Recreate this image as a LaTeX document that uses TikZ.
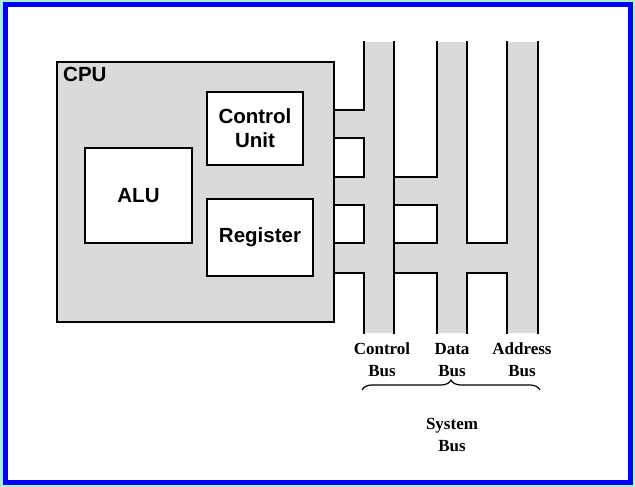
\documentclass[tikz,border=0pt]{standalone}
\usepackage{fontspec}
\setmainfont{Liberation Sans}
\newfontfamily\busfont{Liberation Serif}
\usetikzlibrary{decorations.pathreplacing}
\definecolor{busgray}{RGB}{218,218,218}
\definecolor{framegreen}{RGB}{170,240,200}
\tikzset{
  wire/.style={line width=2.6pt, line cap=rect},
  unit/.style={draw, line width=2.6pt, fill=white, align=center,
    font=\fontsize{20.5}{24}\selectfont\bfseries},
  buslabel/.style={font=\busfont\fontsize{17}{22}\selectfont\bfseries, align=center, inner sep=0pt}
}

\begin{document}
\begin{tikzpicture}[x=1pt, y=-1pt]
  \useasboundingbox (0,0) rectangle (635,487);
  \fill[framegreen] (0,0) rectangle (635,487);
  \fill[white] (5,5) rectangle (630,482);
  \draw[blue, line width=5pt] (5,5) rectangle (630,482);

  % gray fills
  \fill[busgray] (57,62) rectangle (334,322);
  \foreach \xa/\xb in {364/394, 437/467, 507/538}
    \fill[busgray] (\xa,42) rectangle (\xb,333);
  \fill[busgray] (334,110) rectangle (364,138);
  \fill[busgray] (334,177) rectangle (437,205);
  \fill[busgray] (334,243) rectangle (507,273);

  % cpu outline
  \draw[wire] (57,62) rectangle (334,322);
  \node[anchor=north west, font=\fontsize{20.5}{24}\selectfont\bfseries, inner sep=0pt] (cpu) at (63,67) {CPU};
  \node[unit, minimum width=96pt, minimum height=73pt] (cu) at (255,128.5) {Control\\Unit};
  \node[unit, minimum width=107pt, minimum height=95pt] (alu) at (138.5,195.5) {ALU};
  \node[unit, minimum width=106pt, minimum height=77pt] (reg) at (260,237.5) {Register};

  % bus outlines
  \draw[wire] (364,42) -- (364,110) -- (334,110);
  \draw[wire] (334,138) -- (364,138) -- (364,177) -- (334,177);
  \draw[wire] (334,205) -- (364,205) -- (364,243) -- (334,243);
  \draw[wire] (334,273) -- (364,273) -- (364,333);
  \draw[wire] (394,42) -- (394,333);
  \draw[wire] (437,42) -- (437,177) -- (394,177);
  \draw[wire] (394,205) -- (437,205) -- (437,243) -- (394,243);
  \draw[wire] (394,273) -- (437,273) -- (437,333);
  \draw[wire] (467,42) -- (467,243) -- (507,243) -- (507,42);
  \draw[wire] (467,333) -- (467,273) -- (507,273) -- (507,333);
  \draw[wire] (538,42) -- (538,333);

  % labels
  \node[buslabel] (cbus) at (382,360) {Control\\Bus};
  \node[buslabel] (dbus) at (452,360) {Data\\Bus};
  \node[buslabel] (abus) at (522,360) {Address\\Bus};
  \draw[decorate, decoration={brace, amplitude=10pt, mirror}, line width=1.2pt]
    (540,390) -- (362,390);
  \node[buslabel] (sbus) at (452,435) {System\\Bus};
\end{tikzpicture}
\end{document}
